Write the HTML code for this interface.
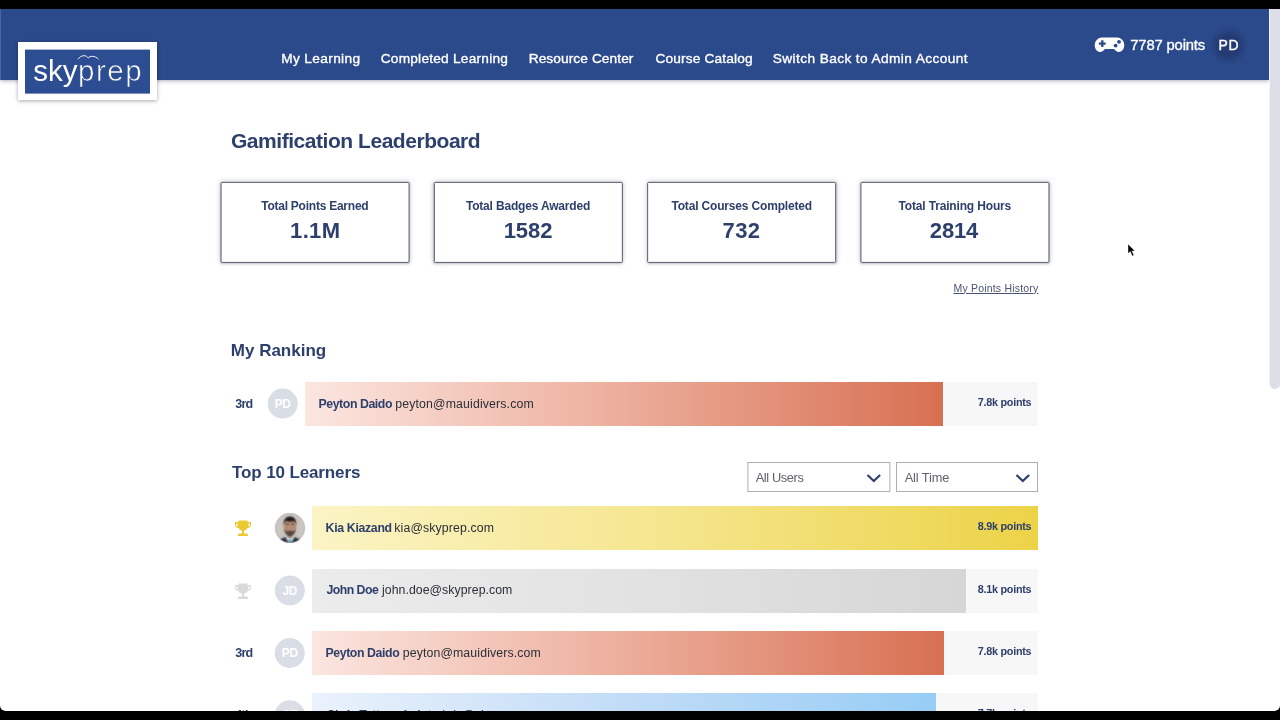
<!DOCTYPE html>
<html lang="en">
<head>
<meta charset="utf-8">
<title>Gamification Leaderboard</title>
<style>
*{box-sizing:border-box;margin:0;padding:0}
html,body{width:1280px;height:720px;overflow:hidden;background:#000}
body{font-family:"Liberation Sans",sans-serif;position:relative;color:#2d3f6b}
.abs{position:absolute}
.t{position:absolute;white-space:nowrap;line-height:20px}
.w{-webkit-text-stroke:0.350px #fff}
#win{position:absolute;left:0;top:9px;width:1280px;height:701.5px;background:#fff;border-radius:0 0 5px 5px}
#clip{position:absolute;left:0;top:0;width:1280px;height:710.5px;overflow:hidden;border-radius:0 0 5px 5px}
#hdr{position:absolute;left:0;top:9px;width:1269px;height:71px;background:#2b4a8b;box-shadow:0 1px 4px rgba(40,40,90,.38)}
#thumb{position:absolute;left:1270px;top:9px;width:10px;height:379.500px;background:#dcdfe8;border-radius:0 0 5px 5px;box-shadow:-1px 0 0 #f1f3f9}
#logo{position:absolute;left:18px;top:42px;width:139px;height:58px;background:#fff;box-shadow:0 1px 4px rgba(0,0,0,.35)}
#logo i{position:absolute;left:7px;top:7px;width:124.500px;height:44px;background:#2d4d92;transform:translateY(0.600px)}
.card{position:absolute;left:0;top:0;width:188.500px;height:80.800px;border:1px solid #5c5f6b;border-radius:1.500px;background:#fff;box-shadow:0 0 5px rgba(50,60,100,.2),0 1px 2px rgba(50,60,100,.22)}
.track{position:absolute;height:44px;background:#f7f7f7}
.bar{position:absolute;height:44px}
.av{position:absolute;width:30px;height:30px;border-radius:50%;background:#d9dde6;color:#fff;font-size:12px;font-weight:bold;text-align:center;line-height:30px;letter-spacing:-0.300px}
.sel{position:absolute;top:462px;height:29.800px;border:1px solid #aeafb6;background:#fff}
.red{background:linear-gradient(90deg,#fbe6e0 0%,#eeb3a2 45%,#d87052 100%)}
</style>
</head>
<body>
<div id="clip">
<div id="win"></div>
<div id="hdr"></div>
<div id="thumb"></div>
<div class="abs" style="left:0;top:9px;width:1px;height:71px;background:#4567a6"></div>

<span class="t w" style="left:281.2px;top:49px;font-size:13.7px;letter-spacing:0.36px;color:#fff;">My Learning</span><span class="t w" style="left:380.7px;top:49px;font-size:13.7px;letter-spacing:0.23px;color:#fff;">Completed Learning</span><span class="t w" style="left:528.7px;top:49px;font-size:13.7px;letter-spacing:0.09px;color:#fff;">Resource Center</span><span class="t w" style="left:655.5px;top:49px;font-size:13.7px;letter-spacing:0.15px;color:#fff;">Course Catalog</span><span class="t w" style="left:772.8px;top:49px;font-size:13.7px;letter-spacing:0.39px;color:#fff;">Switch Back to Admin Account</span>
<svg class="abs" style="left:1094px;top:37px" width="31" height="16" viewBox="0 0 31 16"><path d="M8 0.500h15a7.300 7.300 0 0 1 7.300 7.300c0 4.200-2.500 7.200-5.400 7.200-2.200 0-3.400-1.200-4.800-2.900h-9.200c-1.400 1.700-2.600 2.900-4.800 2.900-2.900 0-5.400-3-5.400-7.200a7.300 7.300 0 0 1 7.300-7.300z" fill="#fff"/><path d="M8.300 3.200v6.800M4.900 6.600h6.800" stroke="#2b4a8b" stroke-width="2.300" fill="none"/><circle cx="25" cy="4.800" r="1.900" fill="#2b4a8b"/><circle cx="21.600" cy="8.600" r="1.900" fill="#2b4a8b"/></svg>
<span class="t w" style="left:1130.3px;top:34.7px;font-size:14.8px;letter-spacing:-0.16px;color:#fff;">7787 points</span>
<div class="abs" style="left:1209px;top:26px;width:39px;height:39px;border-radius:50%;background:radial-gradient(circle,rgba(30,48,100,.6) 35%,rgba(30,48,100,0) 72%)"></div>
<span class="t w" style="left:1218.5px;top:34.7px;font-size:14px;letter-spacing:0.6px;color:#fff;">PD</span>

<div id="logo"><i></i>
  <svg class="abs" style="left:7px;top:7.500px" width="125" height="44" viewBox="0 0 125 44">
    <text x="8.300" y="30.500" font-family="Liberation Sans, sans-serif" font-size="29.500" fill="#fff">sky</text>
    <text x="53" y="30.500" font-family="Liberation Sans, sans-serif" font-size="29.500" letter-spacing="1.500" fill="#fff" stroke="#2d4d92" stroke-width="0.650">prep</text>
    <path d="M53 9.300c1.500-2.300 3.500-3.600 6-3.600 1.800 0 3.200 0.800 4.200 2.300 1-1.100 2.400-1.700 4-1.700 2.600 0 4.800 1.200 6.300 3" fill="none" stroke="#fff" stroke-width="0.900"/>
  </svg>
</div>

<span class="t" style="left:231px;top:131px;font-size:21px;font-weight:bold;letter-spacing:-0.46px;color:#2d3f6b;">Gamification Leaderboard</span>

<div class="card" style="transform:translate(220.550px,181.900px)"></div>
<div class="card" style="transform:translate(433.850px,181.900px)"></div>
<div class="card" style="transform:translate(647.150px,181.900px)"></div>
<div class="card" style="transform:translate(860.450px,181.900px)"></div>
<span class="t" style="left:261.2px;top:195.9px;font-size:12px;font-weight:bold;letter-spacing:-0.24px;color:#2d3f6b;">Total Points Earned</span><span class="t" style="left:465.9px;top:195.9px;font-size:12px;font-weight:bold;letter-spacing:-0.18px;color:#2d3f6b;">Total Badges Awarded</span><span class="t" style="left:671.4px;top:195.9px;font-size:12px;font-weight:bold;letter-spacing:-0.17px;color:#2d3f6b;">Total Courses Completed</span><span class="t" style="left:898.5px;top:195.9px;font-size:12px;font-weight:bold;letter-spacing:-0.16px;color:#2d3f6b;">Total Training Hours</span>
<span class="t" style="left:290.1px;top:221.4px;font-size:22px;font-weight:bold;letter-spacing:0.33px;color:#2d3f6b;">1.1M</span><span class="t" style="left:503.7px;top:221.4px;font-size:22px;font-weight:bold;letter-spacing:-0.07px;color:#2d3f6b;">1582</span><span class="t" style="left:722.5px;top:221.4px;font-size:22px;font-weight:bold;letter-spacing:0.4px;color:#2d3f6b;">732</span><span class="t" style="left:929.8px;top:221.4px;font-size:22px;font-weight:bold;letter-spacing:-0.13px;color:#2d3f6b;">2814</span>
<span class="t" style="left:953.5px;top:277.75px;font-size:10.5px;letter-spacing:0.19px;color:#4a5473;text-decoration:underline;">My Points History</span>

<svg class="abs" style="left:1125.700px;top:241.900px" width="12" height="17" viewBox="-2 -2 12 17"><path d="M0 0v9.600l2.300-2.100 1.900 4.400 1.700-0.700-1.900-4.300h2.900z" fill="#000" stroke="#fff" stroke-width="0.600" stroke-opacity="0.700"/></svg>
<span class="t" style="left:230.8px;top:341px;font-size:17px;font-weight:bold;color:#2d3f6b;">My Ranking</span>
<div class="track" style="left:304.500px;top:382px;width:733.500px"></div>
<div class="bar red" style="left:304.500px;top:382px;width:638px"></div>
<span class="t" style="left:235.2px;top:393.8px;font-size:12.5px;font-weight:bold;letter-spacing:-0.7px;color:#2d3f6b;">3rd</span>
<span class="av" style="left:0;top:0;transform:translate(267.700px,388.600px)">PD</span>
<span class="t" style="left:318.5px;top:393.8px;font-size:12.3px;font-weight:bold;letter-spacing:-0.42px;color:#2d3f6b;">Peyton Daido</span><span class="t" style="left:395.2px;top:393.8px;font-size:12.3px;letter-spacing:0.15px;color:#2b2f38;">peyton@mauidivers.com</span><span class="t" style="left:977.8px;top:392.2px;font-size:10.8px;font-weight:bold;letter-spacing:-0.26px;color:#2d3f6b;">7.8k points</span>

<span class="t" style="left:232.1px;top:463.3px;font-size:17px;font-weight:bold;letter-spacing:-0.13px;color:#2d3f6b;">Top 10 Learners</span>
<div class="sel" style="left:747px;width:142.600px;transform:translateX(0.400px)"></div>
<div class="sel" style="left:896px;width:142px"></div>
<svg class="abs" style="left:866px;top:473px" width="16" height="10" viewBox="0 0 16 10"><path d="M1.500 2l6.300 6 6.300-6" fill="none" stroke="#2d3f6b" stroke-width="2.200"/></svg>
<svg class="abs" style="left:1014.500px;top:473px" width="16" height="10" viewBox="0 0 16 10"><path d="M1.500 2l6.300 6 6.300-6" fill="none" stroke="#2d3f6b" stroke-width="2.200"/></svg>
<span class="t" style="left:755.7px;top:468.2px;font-size:12.8px;letter-spacing:-0.38px;color:#5f626c;">All Users</span><span class="t" style="left:904.7px;top:468.2px;font-size:12.8px;letter-spacing:-0.12px;color:#5f626c;">All Time</span>

<!-- row 1 -->
<div class="bar" style="left:312px;top:506px;width:726px;background:linear-gradient(90deg,#fbf4c5 0%,#f5e58c 50%,#ecd348 100%)"></div>
<svg class="abs" style="left:234px;top:520.300px" width="18" height="17" viewBox="0 0 18 17"><path d="M4.500 0.500h9v1.500h3.500v2.500c0 2-1.500 3.500-3.800 3.700-0.700 1.400-1.700 2.300-3.200 2.600v2.700h2.500c0.800 0 1.500 0.600 1.500 1.500v1h-10v-1c0-0.900 0.700-1.500 1.500-1.500h2.500v-2.700c-1.500-0.300-2.500-1.200-3.200-2.600-2.300-0.200-3.800-1.700-3.800-3.700v-2.500h3.500zM2 3.500v1c0 1 0.700 1.800 1.700 2.100-0.200-0.900-0.200-2-0.200-3.100zM16 3.500h-1.500c0 1.100 0 2.200-0.200 3.100 1-0.300 1.700-1.100 1.700-2.100z" fill="#ebc933"/></svg>
<svg class="abs" style="left:274.900px;top:513.300px" width="30" height="30" viewBox="0 0 30 30"><defs><clipPath id="cc"><circle cx="15" cy="15" r="14.900"/></clipPath><filter id="bl" x="-10%" y="-10%" width="120%" height="120%"><feGaussianBlur stdDeviation="0.900"/></filter><g id="face"><rect x="-3" y="-3" width="36" height="36" fill="#c9c5c1"/><path d="M2 33c0.500-6 5-8.300 9-9h8c4 0.700 8.500 3 9 9z" fill="#252c38"/><path d="M10.800 24l4.200 8 4.200-8-1.200-2.500h-6z" fill="#d6e6f0"/><path d="M14.100 26.500h1.800l0.900 5h-3.600z" fill="#3a93a6"/><path d="M12 19h6v5l-3 1.500-3-1.500z" fill="#a27a64"/><ellipse cx="15" cy="13.600" rx="6.300" ry="8.600" fill="#b58c75"/><path d="M8.700 12.500c-0.800-6.500 2.300-9.300 6.300-9.300s7.100 2.800 6.300 9.300c-0.500-2.600-1.300-3.800-2-4.300-1.400 0.600-7.200 0.600-8.600 0-0.700 0.500-1.500 1.700-2 4.300z" fill="#1b1413"/><path d="M9 15.500c0.200 4.800 2.800 7.700 6 7.700s5.800-2.900 6-7.700c-1 2.200-2 2.700-3.300 2.700-1-0.600-4.400-0.600-5.400 0-1.300 0-2.300-0.500-3.300-2.700z" fill="#45352e" opacity="0.850"/><path d="M10.800 11.300h3.200M16 11.300h3.200" stroke="#2a201c" stroke-width="1.100" opacity="0.800"/></g></defs><g clip-path="url(#cc)"><use href="#face"/><use href="#face" filter="url(#bl)" opacity="0.650"/></g><circle cx="15" cy="15" r="14.700" fill="none" stroke="#bdb9b6" stroke-width="0.600"/></svg>
<span class="t" style="left:325.6px;top:517.9px;font-size:12.3px;font-weight:bold;letter-spacing:-0.32px;color:#2d3f6b;">Kia Kiazand</span><span class="t" style="left:394.3px;top:517.9px;font-size:12.3px;letter-spacing:0.13px;color:#2b2f38;">kia@skyprep.com</span><span class="t" style="left:977.8px;top:516.3px;font-size:10.8px;font-weight:bold;letter-spacing:-0.26px;color:#2d3f6b;">8.9k points</span>

<!-- row 2 -->
<div class="track" style="left:312px;top:568.500px;width:726px"></div>
<div class="bar" style="left:312px;top:568.500px;width:653.500px;background:linear-gradient(90deg,#ececec 0%,#e2e2e2 50%,#d6d6d6 100%)"></div>
<svg class="abs" style="left:234px;top:582.600px" width="18" height="17" viewBox="0 0 18 17"><path d="M4.500 0.500h9v1.500h3.500v2.500c0 2-1.500 3.500-3.800 3.700-0.700 1.400-1.700 2.300-3.200 2.600v2.700h2.500c0.800 0 1.500 0.600 1.500 1.500v1h-10v-1c0-0.900 0.700-1.500 1.500-1.500h2.500v-2.700c-1.500-0.300-2.500-1.200-3.200-2.600-2.300-0.200-3.800-1.700-3.800-3.700v-2.500h3.500zM2 3.500v1c0 1 0.700 1.800 1.700 2.100-0.200-0.900-0.200-2-0.200-3.100zM16 3.500h-1.500c0 1.100 0 2.200-0.200 3.100 1-0.300 1.700-1.100 1.700-2.100z" fill="#d9d9d9"/></svg>
<span class="av" style="left:0;top:0;transform:translate(274.800px,575.500px)">JD</span>
<span class="t" style="left:326.5px;top:580.1px;font-size:12.3px;font-weight:bold;letter-spacing:-0.54px;color:#2d3f6b;">John Doe</span><span class="t" style="left:382px;top:580.1px;font-size:12.3px;letter-spacing:0.05px;color:#2b2f38;">john.doe@skyprep.com</span><span class="t" style="left:977.8px;top:578.5px;font-size:10.8px;font-weight:bold;letter-spacing:-0.26px;color:#2d3f6b;">8.1k points</span>

<!-- row 3 -->
<div class="track" style="left:312px;top:631px;width:726px"></div>
<div class="bar red" style="left:312px;top:631px;width:631.500px"></div>
<span class="t" style="left:235.2px;top:642.6px;font-size:12.5px;font-weight:bold;letter-spacing:-0.7px;color:#2d3f6b;">3rd</span>
<span class="av" style="left:0;top:0;transform:translate(274.800px,638px)">PD</span>
<span class="t" style="left:325.5px;top:642.6px;font-size:12.3px;font-weight:bold;letter-spacing:-0.4px;color:#2d3f6b;">Peyton Daido</span><span class="t" style="left:402.7px;top:642.6px;font-size:12.3px;letter-spacing:0.13px;color:#2b2f38;">peyton@mauidivers.com</span><span class="t" style="left:977.8px;top:641px;font-size:10.8px;font-weight:bold;letter-spacing:-0.26px;color:#2d3f6b;">7.8k points</span>

<!-- row 4 -->
<div class="track" style="left:312px;top:693px;width:726px"></div>
<div class="bar" style="left:312px;top:693px;width:624px;background:linear-gradient(90deg,#eaf2fc 0%,#c2dcf7 50%,#97cdf5 100%)"></div>
<span class="t" style="left:235.2px;top:704.6px;font-size:12.5px;font-weight:bold;letter-spacing:-0.7px;color:#2d3f6b;">4th</span>
<span class="av" style="left:0;top:0;transform:translate(274.800px,700.200px)">CT</span>
<span class="t" style="left:326.5px;top:704.6px;font-size:12.3px;font-weight:bold;letter-spacing:-0.33px;color:#2d3f6b;">Chris Tatterscheint</span><span class="t" style="left:436px;top:704.6px;font-size:12.3px;letter-spacing:0.06px;color:#2b2f38;">chris@skyprep.com</span><span class="t" style="left:977.8px;top:703px;font-size:10.8px;font-weight:bold;letter-spacing:-0.26px;color:#2d3f6b;">7.7k points</span>
</div>
</body>
</html>
